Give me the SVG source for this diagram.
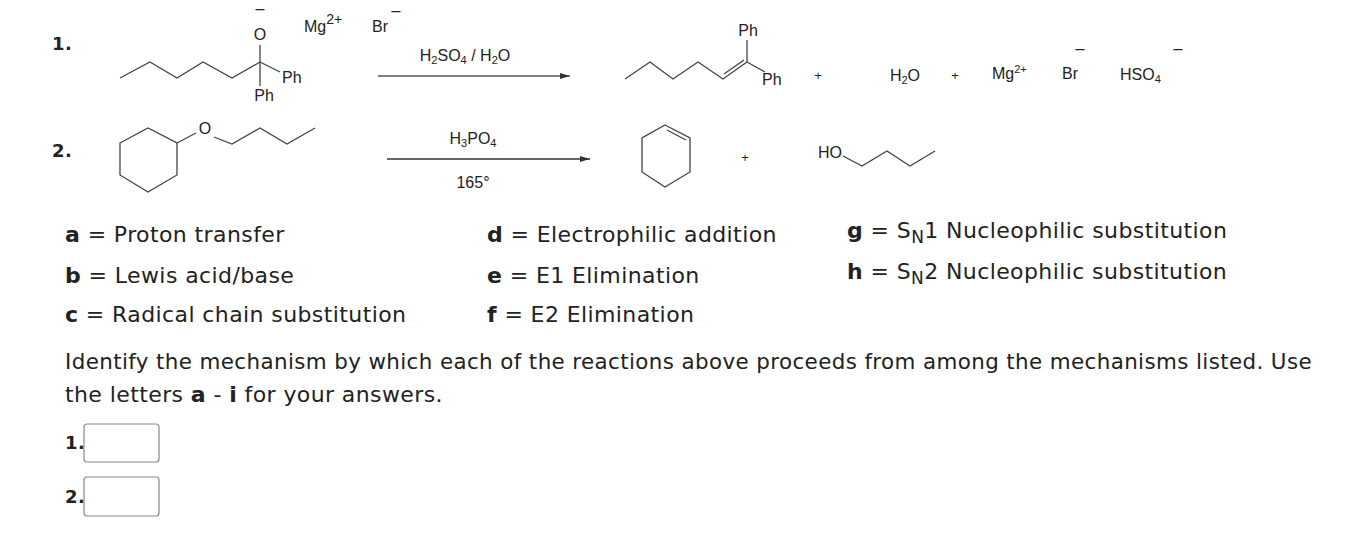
<svg xmlns="http://www.w3.org/2000/svg" width="1368" height="544" viewBox="0 0 1368 544">
<defs>
<marker id="ah" markerWidth="10" markerHeight="6" refX="10" refY="3" orient="auto" markerUnits="userSpaceOnUse"><path d="M0,0 L10,3 L0,6 Z" fill="#333"/></marker>
</defs>
<style>
.b{fill:none;stroke:#444;stroke-width:1.3}
.c{font-family:"Liberation Sans",Arial,sans-serif;font-size:16px;fill:#222}
.s{font-size:11px}
.t{font-family:"DejaVu Sans","Open Sans",sans-serif;font-size:22px;letter-spacing:0.4px;fill:#222}
.bd{font-weight:bold}
.box{fill:#fff;stroke:#888;stroke-width:1.2}
</style>
<rect width="1368" height="544" fill="#fff"/>
<g id="labels-top">
<text class="t bd" x="52" y="50" style="font-size:18px">1.</text>
<text class="t bd" x="52" y="157" style="font-size:18px">2.</text>
</g>
<g id="reactant1">
<polyline class="b" points="120,78 150,62 177,78 203,62 232,78 260,62"/>
<line class="b" x1="260" y1="62" x2="260" y2="45"/>
<line class="b" x1="260" y1="62" x2="280" y2="72"/>
<line class="b" x1="260" y1="62" x2="260" y2="86"/>
<text class="c" x="260" y="40" text-anchor="middle">O</text>
<text class="c" x="260" y="14" text-anchor="middle">–</text>
<text class="c" x="282" y="83">Ph</text>
<text class="c" x="264" y="101" text-anchor="middle">Ph</text>
<text class="c" x="304" y="32">Mg<tspan dy="-8" style="font-size:14px">2+</tspan></text>
<text class="c" x="372" y="32">Br</text>
<text class="c" x="396" y="16" text-anchor="middle">–</text>
</g>
<g id="reactant2">
<polygon class="b" points="120,143 148,128 177,143 177,175 148,192 120,175"/>
<polyline class="b" points="177,143 196,133"/>
<text class="c" x="205" y="134" text-anchor="middle">O</text>
<polyline class="b" points="214,137 232,144 260,128 287,144 315,128"/>
</g>
<g id="product1">
<polyline class="b" points="625,79 650,62 673,79 698,62 723,79 747,62"/>
<line class="b" x1="724" y1="74" x2="744" y2="60"/>
<line class="b" x1="747" y1="62" x2="747" y2="40"/>
<line class="b" x1="747" y1="62" x2="765" y2="72"/>
<text class="c" x="748" y="36" text-anchor="middle">Ph</text>
<text class="c" x="762" y="85">Ph</text>
<text class="c" x="818" y="80" text-anchor="middle" style="font-size:13px">+</text>
<text class="c" x="905" y="81" text-anchor="middle">H<tspan class="s" dy="3">2</tspan><tspan dy="-3">O</tspan></text>
<text class="c" x="955" y="80" text-anchor="middle" style="font-size:13px">+</text>
<text class="c" x="992" y="79">Mg<tspan class="s" dy="-6">2+</tspan></text>
<text class="c" x="1062" y="79">Br</text>
<text class="c" x="1080" y="54" text-anchor="middle">–</text>
<text class="c" x="1120" y="80">HSO<tspan class="s" dy="3">4</tspan></text>
<text class="c" x="1178" y="54" text-anchor="middle">–</text>
</g>
<g id="product2">
<polygon class="b" points="665,125 690,138 690,172 665,187 642,172 642,138"/>
<line class="b" x1="667" y1="130" x2="686" y2="140"/>
<text class="c" x="745" y="162" text-anchor="middle" style="font-size:13px">+</text>
<text class="c" x="818" y="158">HO</text>
<polyline class="b" points="843,156 862,166 887,151 910,166 935,151"/>
</g>
<g id="connectors">
<line x1="378" y1="76" x2="570" y2="76" stroke="#555" stroke-width="1.3" marker-end="url(#ah)"/>
<text class="c" x="465" y="61" text-anchor="middle">H<tspan class="s" dy="3">2</tspan><tspan dy="-3">SO</tspan><tspan class="s" dy="3">4</tspan><tspan dy="-3"> / H</tspan><tspan class="s" dy="3">2</tspan><tspan dy="-3">O</tspan></text>
<line x1="387" y1="159" x2="590" y2="159" stroke="#333" stroke-width="1.3" marker-end="url(#ah)"/>
<text class="c" x="473" y="144" text-anchor="middle">H<tspan class="s" dy="3">3</tspan><tspan dy="-3">PO</tspan><tspan class="s" dy="3">4</tspan></text>
<text class="c" x="473" y="188" text-anchor="middle">165°</text>
</g>
<g id="legend">
<text class="t" x="65" y="242"><tspan class="bd">a</tspan> = Proton transfer</text>
<text class="t" x="65" y="283"><tspan class="bd">b</tspan> = Lewis acid/base</text>
<text class="t" x="65" y="322"><tspan class="bd">c</tspan> = Radical chain substitution</text>
<text class="t" x="487" y="242"><tspan class="bd">d</tspan> = Electrophilic addition</text>
<text class="t" x="487" y="283"><tspan class="bd">e</tspan> = E1 Elimination</text>
<text class="t" x="487" y="322"><tspan class="bd">f</tspan> = E2 Elimination</text>
<text class="t" x="847" y="238"><tspan class="bd">g</tspan> = S<tspan dy="5" style="font-size:17px">N</tspan><tspan dy="-5">1 Nucleophilic substitution</tspan></text>
<text class="t" x="847" y="279"><tspan class="bd">h</tspan> = S<tspan dy="5" style="font-size:17px">N</tspan><tspan dy="-5">2 Nucleophilic substitution</tspan></text>
</g>
<g id="question">
<text class="t" x="65" y="369" textLength="1247" lengthAdjust="spacingAndGlyphs">Identify the mechanism by which each of the reactions above proceeds from among the mechanisms listed. Use</text>
<text class="t" x="65" y="402">the letters <tspan class="bd">a</tspan> - <tspan class="bd">i</tspan> for your answers.</text>
</g>
<g id="answers">
<text class="t bd" x="65" y="449" style="font-size:18px">1.</text>
<rect class="box" x="84" y="424" width="75" height="38" rx="3"/>
<text class="t bd" x="65" y="503" style="font-size:18px">2.</text>
<rect class="box" x="84" y="477" width="75" height="39" rx="3"/>
</g>
</svg>
